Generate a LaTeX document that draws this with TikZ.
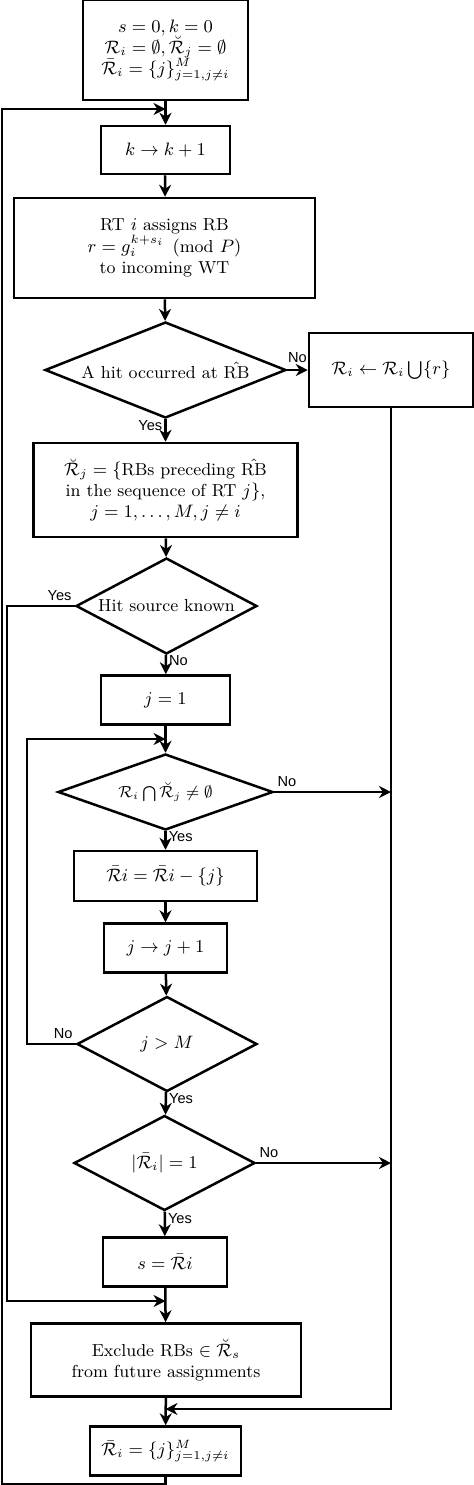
\documentclass[tikz,border=0pt]{standalone}
\usepackage{amsmath}
\usepackage{fontspec}
\setsansfont{Liberation Sans}
\usetikzlibrary{shapes.geometric,arrows.meta}

\begin{document}
\begin{tikzpicture}[x=0.5pt,y=-0.5pt,
    box/.style={draw, line width=1.25pt, inner sep=0pt, align=center,
        font=\fontsize{8.7}{10.6}\selectfont},
    decision/.style={diamond, draw, line width=1.25pt, inner sep=0pt, align=center,
        font=\fontsize{8.7}{10.6}\selectfont},
    arrow/.style={line width=1.25pt, -{Stealth[length=6pt,width=6pt]}},
    lbl/.style={font=\sffamily\fontsize{7.3}{8}\selectfont, inner sep=1pt}]
    \useasboundingbox (0,0) rectangle (474,1485);

    % nodes
    \node[box, minimum width=82.5pt, minimum height=50pt] (init) at (165.5,50)
        {$s=0,k=0$\\ $\mathcal{R}_i=\emptyset,\breve{\mathcal{R}}_j=\emptyset$\\ $\bar{\mathcal{R}}_i=\{j\}_{j=1,j\neq i}^{M}$};
    \node[box, minimum width=64.5pt, minimum height=24pt] (inc) at (165.5,150) {$k\rightarrow k+1$};
    \node[box, minimum width=150.5pt, minimum height=50pt] (assign) at (164.5,248)
        {RT $i$ assigns RB\\ $r=g_i^{k+s_i}\pmod{P}$\\ to incoming WT};
    \node[decision, aspect=2.5, minimum width=120.5pt, minimum height=48pt] (hit) at (165.5,370)
        {A hit occurred at $\hat{\mathrm{RB}}$};
    \node[box, minimum width=82pt, minimum height=37pt] (upd) at (391,370)
        {$\mathcal{R}_i\leftarrow\mathcal{R}_i\bigcup\{r\}$};
    \node[box, minimum width=132pt, minimum height=47pt] (prec) at (165.5,490)
        {$\breve{\mathcal{R}}_j=\{$RBs preceding $\hat{\mathrm{RB}}$\\ in the sequence of RT $j\}$,\\ $j=1,\ldots,M,j\neq i$};
    \node[decision, aspect=1.9, minimum width=90.5pt, minimum height=48pt] (src) at (166.5,606) {Hit source known};
    \node[box, minimum width=64.5pt, minimum height=24.5pt] (jone) at (165.5,700) {$j=1$};
    \node[decision, aspect=2.8, minimum width=107.5pt, minimum height=38pt, font=\fontsize{7.6}{9}\selectfont] (inter) at (165.5,792)
        {$\mathcal{R}_i\bigcap\breve{\mathcal{R}}_j\neq\emptyset$};
    \node[box, minimum width=91.5pt, minimum height=25pt] (drop) at (165.5,876)
        {$\bar{\mathcal{R}}i=\bar{\mathcal{R}}i-\{j\}$};
    \node[box, minimum width=61.5pt, minimum height=24.5pt] (jinc) at (165.5,948) {$j\rightarrow j+1$};
    \node[decision, aspect=1.9, minimum width=90pt, minimum height=47.5pt] (jgt) at (167,1044) {$j>M$};
    \node[decision, aspect=1.9, minimum width=90.5pt, minimum height=47.5pt] (card) at (164.5,1163) {$|\bar{\mathcal{R}}_i|=1$};
    \node[box, minimum width=62pt, minimum height=24.5pt] (sset) at (165,1262) {$s=\bar{\mathcal{R}}i$};
    \node[box, minimum width=135pt, minimum height=36.5pt] (excl) at (166,1360)
        {Exclude RBs $\in\breve{\mathcal{R}}_s$\\ from future assignments};
    \node[box, minimum width=75.5pt, minimum height=24.5pt] (reset) at (165.5,1451)
        {$\bar{\mathcal{R}}_i=\{j\}_{j=1,j\neq i}^{M}$};

    % merge points
    \coordinate (top) at (165.5,109);
    \coordinate (loop) at (165.5,739);
    \coordinate (known) at (165.5,1301);
    \coordinate (miss) at (165.5,1409);
    \coordinate (back) at (2,1484);

    % main flow
    \draw[arrow] (init) -- (inc);
    \draw[arrow] (inc) -- (assign);
    \draw[arrow] (assign) -- (hit);
    \draw[arrow] (hit) -- (upd) node[lbl, midway, above, yshift=2pt] {No};
    \draw[arrow] (hit) -- (prec) node[lbl, pos=0.3, left] {Yes};
    \draw[arrow] (prec) -- (src);
    \draw[arrow] (src) -- (jone) node[lbl, pos=0.3, right] {No};
    \draw[arrow] (jone) -- (inter);
    \draw[arrow] (inter) -- (drop) node[lbl, pos=0.3, right] {Yes};
    \draw[arrow] (drop) -- (jinc);
    \draw[arrow] (jinc) -- (jgt);
    \draw[arrow] (jgt) -- (card) node[lbl, pos=0.3, right] {Yes};
    \draw[arrow] (card) -- (sset) node[lbl, pos=0.3, right] {Yes};
    \draw[arrow] (sset) -- (excl);
    \draw[arrow] (excl) -- (reset);

    % side branches
    \draw[arrow] (src.west) node[lbl, above left, yshift=1pt] {Yes} -- ++(-68,0) |- (known);
    \draw[arrow] (jgt.west) node[lbl, above left, yshift=1pt] {No} -- ++(-49,0) |- (loop);
    \draw[arrow] (inter.east) node[lbl, above right, yshift=1pt] {No} -- (inter.east -| upd.south);
    \draw[arrow] (card.east) node[lbl, above right, yshift=1pt] {No} -- (card.east -| upd.south);
    \draw[arrow] (upd.south) |- (miss);
    \draw[arrow] (reset.south) |- (back) |- (top);
\end{tikzpicture}
\end{document}
